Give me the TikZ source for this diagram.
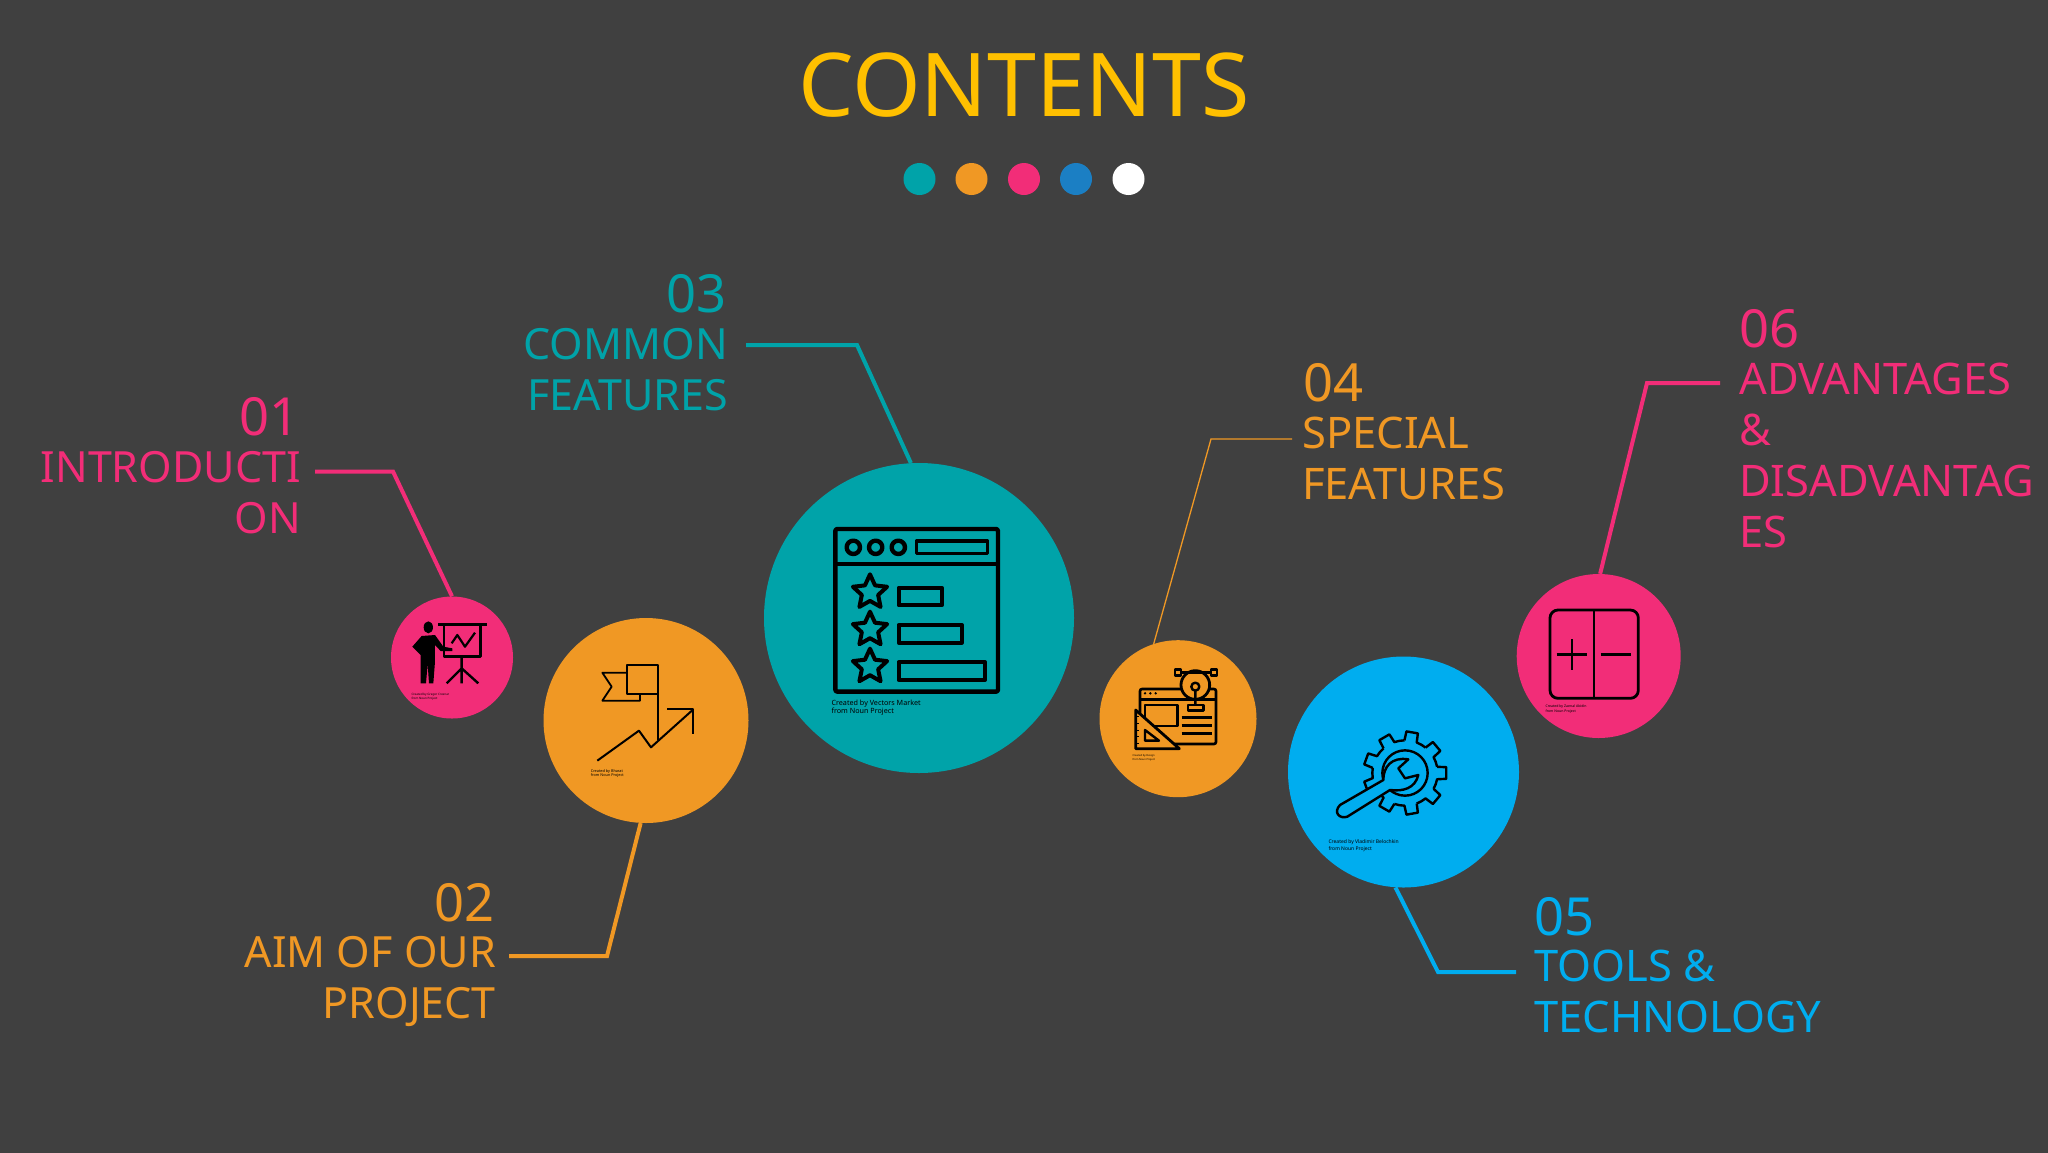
\documentclass[tikz,border=0pt]{standalone}
\usepackage{fontspec}
\setmainfont{Noto Sans}
\usetikzlibrary{shapes.geometric}
\definecolor{bg}{HTML}{404040}
\definecolor{teal}{HTML}{00A3A9}
\definecolor{orng}{HTML}{F09824}
\definecolor{pnk}{HTML}{F22D78}
\definecolor{sky}{HTML}{00ADEF}
\definecolor{gold}{HTML}{FFC000}
\definecolor{dotblue}{HTML}{1B7FC4}
\tikzset{
  ball/.style={circle,inner sep=0pt,fill=#1},
  dotm/.style={circle,inner sep=0pt,minimum size=32pt,fill=#1},
  link/.style={line width=4pt,line join=miter},
  numl/.style={inner sep=0pt,font=\fontsize{52.5}{52}\selectfont},
  bodyr/.style={inner sep=0pt,anchor=base east,align=right,font=\fontsize{43}{51}\selectfont},
  bodyl/.style={inner sep=0pt,anchor=base west,align=left,font=\fontsize{43.5}{51}\selectfont},
  credit/.style={inner sep=0pt,anchor=north west,align=left,text=black,font=\fontsize{#1}{#1}\selectfont},
  icon/.style={draw=black,line join=round},
}
\begin{document}
\begin{tikzpicture}[x=1pt,y=-1pt]
\useasboundingbox (0,0) rectangle (2048,1152);
\fill[bg] (-5,-5) rectangle (2053,1157);
% title
\node[inner sep=0pt,anchor=base,text=gold,font=\fontsize{88}{88}\selectfont] (title) at (1024,116) {CONTENTS};
\node[dotm=teal] (d1) at (919.5,179) {};
\node[dotm=orng] (d2) at (971.5,179) {};
\node[dotm=pnk] (d3) at (1024,179) {};
\node[dotm=dotblue] (d4) at (1076,179) {};
\node[dotm=white] (d5) at (1128.5,179) {};
% circles
\node[ball=pnk,minimum size=122pt] (c1) at (452,657.5) {};
\node[ball=orng,minimum size=205pt] (c2) at (646,720.5) {};
\node[ball=teal,minimum size=310pt] (c3) at (919,618) {};
\node[ball=orng,minimum size=157pt] (c4) at (1178,718.7) {};
\node[ball=sky,minimum size=231pt] (c5) at (1403.5,772) {};
\node[ball=pnk,minimum size=164pt] (c6) at (1598.7,656) {};
% labels
\node[numl,anchor=base east,text=pnk] (n1) at (300,435.5) {01};
\node[bodyr,text=pnk] (t1) at (301,533.5) {INTRODUCTI\\ON};
\node[numl,anchor=base east,text=orng] (n2) at (495,921) {02};
\node[bodyr,text=orng] (t2) at (496,1018.5) {AIM OF OUR\\PROJECT};
\node[numl,anchor=base east,text=teal] (n3) at (727,312.5) {03};
\node[bodyr,text=teal] (t3) at (728,410.5) {COMMON\\FEATURES};
\node[numl,anchor=base west,text=orng] (n4) at (1303,401.5) {04};
\node[bodyl,text=orng] (t4) at (1302,499.5) {SPECIAL\\FEATURES};
\node[numl,anchor=base west,text=sky] (n5) at (1534,935) {05};
\node[bodyl,text=sky] (t5) at (1534,1032.5) {TOOLS \&\\TECHNOLOGY};
\node[numl,anchor=base west,text=pnk] (n6) at (1739,347.5) {06};
\node[bodyl,text=pnk] (t6) at (1739,547.5) {ADVANTAGES\\\&\\DISADVANTAG\\ES};
% connectors
\coordinate (s1) at (315,471.5); \coordinate (k1) at (393,471.5);
\coordinate (s2) at (509,956);   \coordinate (k2) at (607,956);
\coordinate (s3) at (746,345);   \coordinate (k3) at (857,345);
\coordinate (s4) at (1292,439);  \coordinate (k4) at (1211,439);
\coordinate (s5) at (1516,972);  \coordinate (k5) at (1438,972);
\coordinate (s6) at (1720,383);  \coordinate (k6) at (1647,383);
\draw[link,pnk] (s1) -- (k1) -- (c1.north);
\draw[link,orng] (s2) -- (k2) -- (c2.267);
\draw[link,teal] (s3) -- (k3) -- (c3.93);
\draw[orng,line width=1.3pt] (s4) -- (k4) -- (c4.108);
\draw[link,sky] (s5) -- (k5) -- (c5.266);
\draw[link,pnk] (s6) -- (k6) -- (c6.89);
% icon 01
\begin{scope}[shift={(380,590)},x=.3333pt,y=-.3333pt]
\fill[black] (145,112) ellipse (14 and 18);
\fill[black] (125,138) -- (165,135) -- (190,170) -- (217,175) -- (217,183) -- (182,183) -- (165,165) -- (165,215) -- (160,280) -- (147,280) -- (143,222) -- (138,280) -- (122,280) -- (122,195) -- (97,170) -- cycle;
\draw[icon,line width=2.6pt] (175,104) -- (320,104);
\draw[icon,line width=2.4pt] (192,104) -- (192,200) -- (302,200) -- (302,104);
\draw[icon,line width=2.4pt] (245,200) -- (245,280) (245,235) -- (200,280) (245,235) -- (295,280);
\draw[icon,line width=2.2pt] (215,160) -- (232,135) -- (255,170) -- (285,128);
\node[credit=3] (cr1) at (94,309) {Created by Gregor Cresnar\\from Noun Project};
\end{scope}
% icon 02
\begin{scope}[shift={(380,590)},x=.3333pt,y=-.3333pt]
\draw[icon,line width=1.8pt] (740,225) rectangle (833,312);
\draw[icon,line width=1.8pt] (833,312) -- (833,450);
\draw[icon,line width=1.8pt] (740,248) -- (667,248) -- (695,290) -- (667,332) -- (780,332) -- (780,312);
\draw[icon,line width=2pt] (652,512) -- (777,422) -- (813,472) -- (938,360);
\draw[icon,line width=2pt] (862,357) -- (938,357) -- (938,432);
\node[credit=3.8] (cr2) at (632,537) {Created by Bharat\\from Noun Project};
\end{scope}
% icon 03
\begin{scope}[shift={(760,460)},x=.3333pt,y=-.3333pt]
\draw[icon,line width=4.4pt,rounded corners=2pt] (226,207) rectangle (714,695);
\draw[icon,line width=4.4pt] (226,312) -- (714,312);
\foreach \cx in {280,347,415} \draw[icon,line width=4.4pt] (\cx,262) circle (20);
\draw[icon,line width=3.6pt] (470,243) rectangle (682,281);
\foreach \sy in {397,509,620} \node[star,star points=5,star point ratio=2.1,draw=black,line width=4pt,line join=round,inner sep=0pt,minimum size=36pt] at (330,\sy) {};
\draw[icon,line width=4.2pt] (416,383) rectangle (545,436);
\draw[icon,line width=4.2pt] (416,495) rectangle (605,548);
\draw[icon,line width=4.2pt] (416,607) rectangle (675,660);
\node[credit=7.2] (cr3) at (214,719) {Created by Vectors Market\\from Noun Project};
\end{scope}
% icon 04
\begin{scope}[shift={(1090,640)},x=.3333pt,y=-.3333pt]
\draw[icon,line width=2.6pt,rounded corners=2pt] (150,147) rectangle (378,312);
\draw[icon,line width=2.6pt] (150,178) -- (378,178);
\foreach \cx in {165,181,197} \fill[black] (\cx,160) circle (4);
\draw[icon,line width=2.6pt] (165,195) rectangle (262,258);
\foreach \ly in {232,256,280} \draw[icon,line width=2.6pt] (275,\ly) -- (365,\ly);
\draw[icon,fill=orng,line width=2.8pt] (137,210) -- (268,326) -- (137,326) -- cycle;
\draw[icon,line width=2.4pt] (165,270) -- (207,302) -- (165,302) -- cycle;
\foreach \ty in {230,250,270,290,310} \draw[black,line width=1pt] (137,\ty) -- (147,\ty);
\draw[icon,fill=orng,line width=2.8pt] (316,135) circle (43);
\draw[icon,fill=orng,line width=2.6pt] (294,195) rectangle (340,212);
\draw[icon,line width=2.4pt] (316,140) circle (12) (316,152) -- (316,195);
\draw[icon,line width=2.4pt] (273,97) -- (363,97);
\draw[icon,fill=orng,line width=2.4pt] (255,88) rectangle (273,106);
\draw[icon,fill=orng,line width=2.4pt] (363,88) rectangle (381,106);
\node[credit=2.6] (cr4) at (127,343) {Created by Design\\from Noun Project};
\end{scope}
% icon 05
\begin{scope}[shift={(1405,773)},x=.3333pt,y=-.3333pt]
\foreach \a in {0,40,...,320}{
  \draw[icon,line width=2.4pt] (\a-11:98) -- (\a-8:125) -- (\a+8:125) -- (\a+11:98)
     arc[start angle=\a+11,end angle=\a+29,radius=98];
}
\draw[icon,line width=2.4pt] (0,0) circle (68);
\end{scope}
\begin{scope}[shift={(1290,700)},x=.3333pt,y=-.3333pt]
\draw[icon,fill=sky,line width=2.4pt] (150,315) -- (280,240) .. controls (280,200) and (305,170) .. (355,178) -- (325,205) -- (345,235) -- (385,225) .. controls (375,265) and (340,275) .. (300,270) -- (172,350) .. controls (150,358) and (128,338) .. (150,315) -- cycle;
\node[credit=5] (cr5) at (115,420) {Created by Vladimir Belochkin\\from Noun Project};
\end{scope}
% icon 06
\begin{scope}[shift={(1510,570)},x=.3333pt,y=-.3333pt]
\draw[icon,line width=2.8pt,rounded corners=8pt] (120,120) rectangle (385,385);
\draw[icon,line width=2.8pt] (252,120) -- (252,385);
\draw[icon,line width=2.8pt] (140,253) -- (232,253) (186,207) -- (186,299);
\draw[icon,line width=2.8pt] (272,253) -- (362,253);
\node[credit=3.5] (cr6) at (106,404) {Created by Zaenal Abidin\\from Noun Project};
\end{scope}
\end{tikzpicture}
\end{document}
